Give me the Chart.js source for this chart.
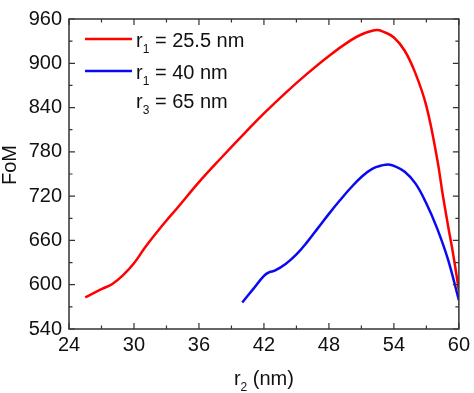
<!DOCTYPE html>
<html>
<head>
<meta charset="utf-8">
<script src="https://cdn.jsdelivr.net/npm/chart.js@4.4.1/dist/chart.umd.min.js"></script>
<style>
  html, body { margin: 0; padding: 0; background: #fff; }
  #wrap { width: 474px; height: 393px; }
</style>
</head>
<body>
<div id="wrap"><canvas id="fom" width="474" height="393"></canvas></div>
<script>
// r2 (nm) sweep, r1 = 25.5 nm
const redX = [25.5, 27, 28, 29, 30, 31, 32, 33, 34, 36, 38, 40, 42, 44, 46, 48, 50, 51, 52, 52.5, 53, 54, 55, 56, 57, 58, 58.5, 59, 59.5, 60];
const redY = [583, 594, 601, 613, 629, 650, 669, 687, 704, 739, 771, 802, 832, 860, 886, 910, 931, 939, 944, 945, 943, 935, 917, 886, 842, 770, 723, 680, 639, 592];
// r1 = 40 nm
const blueX = [40, 41, 42, 42.5, 43, 44, 45, 46, 47, 48, 49, 50, 51, 52, 53, 53.5, 54, 55, 56, 57, 58, 59, 60];
const blueY = [576, 594, 612, 617, 619, 628, 641, 658, 677, 696, 714, 731, 746, 757, 762, 763, 761, 753, 737, 710, 676, 634, 579];

const xTicks = [24, 30, 36, 42, 48, 54, 60];
const yTicks = [540, 600, 660, 720, 780, 840, 900, 960];
const legendLabels = [['r', '1', ' = 25.5 nm'], ['r', '1', ' = 40 nm'], ['r', '3', ' = 65 nm']];
const xTitle = ['r', '2', ' (nm)'];
const yTitle = 'FoM';

const FONT = '"Liberation Sans", Arial, sans-serif';
const TXT = '#111';
const FRAME = '#333';

const pts = (xs, ys) => xs.map((x, i) => ({ x: x, y: ys[i] }));

// draws "r" + subscript + rest
function subText(ctx, parts, x, y, size, align) {
    const big = size + 'px ' + FONT, small = Math.round(size * 0.6) + 'px ' + FONT;
    ctx.font = big; const w0 = ctx.measureText(parts[0]).width, w2 = ctx.measureText(parts[2]).width;
    ctx.font = small; const w1 = ctx.measureText(parts[1]).width;
    let sx = align === 'center' ? x - (w0 + w1 + w2) / 2 : x;
    ctx.textAlign = 'left'; ctx.textBaseline = 'alphabetic'; ctx.fillStyle = TXT;
    ctx.font = big; ctx.fillText(parts[0], sx, y);
    ctx.font = small; ctx.fillText(parts[1], sx + w0, y + size * 0.3);
    ctx.font = big; ctx.fillText(parts[2], sx + w0 + w1, y);
}

const framePlugin = {
    id: 'frame',
    afterDatasetsDraw(chart) {
        const ctx = chart.ctx, a = chart.chartArea;
        const xs = chart.scales.x, ys = chart.scales.y;
        ctx.save();
        ctx.strokeStyle = FRAME; ctx.lineWidth = 1.5;
        ctx.strokeRect(a.left, a.top, a.right - a.left, a.bottom - a.top);
        ctx.lineWidth = 1.2;
        ctx.beginPath();
        for (let v = xs.min; v <= xs.max; v += 3) {
            const px = xs.getPixelForValue(v);
            const len = (v - xs.min) % 6 === 0 ? 6 : 3.5;
            ctx.moveTo(px, a.bottom); ctx.lineTo(px, a.bottom - len);
            ctx.moveTo(px, a.top); ctx.lineTo(px, a.top + len);
        }
        for (let v = ys.min; v <= ys.max; v += 30) {
            const py = ys.getPixelForValue(v);
            const len = (v - ys.min) % 60 === 0 ? 6 : 3.5;
            ctx.moveTo(a.left, py); ctx.lineTo(a.left + len, py);
            ctx.moveTo(a.right, py); ctx.lineTo(a.right - len, py);
        }
        ctx.stroke();

        // legend
        const ds = chart.data.datasets;
        const lx0 = a.left + 16, lx1 = a.left + 63, tx = a.left + 67;
        const rows = [a.top + 20, a.top + 52, a.top + 81];
        legendLabels.forEach((lab, i) => {
            if (ds[i]) {
                ctx.strokeStyle = ds[i].borderColor; ctx.lineWidth = 2.5;
                ctx.beginPath(); ctx.moveTo(lx0, rows[i]); ctx.lineTo(lx1, rows[i]); ctx.stroke();
            }
            subText(ctx, lab, tx, rows[i] + 7.5, 20, 'left');
        });

        // axis titles
        subText(ctx, xTitle, (a.left + a.right) / 2, 385, 20, 'center');
        ctx.save();
        ctx.translate(10, 165); ctx.rotate(-Math.PI / 2);
        ctx.font = '20px ' + FONT; ctx.textAlign = 'center'; ctx.textBaseline = 'middle';
        ctx.fillStyle = TXT; ctx.fillText(yTitle, 0, 0);
        ctx.restore();
        ctx.restore();
    }
};

new Chart(document.getElementById('fom').getContext('2d'), {
    type: 'line',
    data: {
        datasets: [
            { label: 'r1 = 25.5 nm', data: pts(redX, redY), borderColor: '#ff0000', borderWidth: 2.5, pointRadius: 0, tension: 0.4, fill: false },
            { label: 'r1 = 40 nm', data: pts(blueX, blueY), borderColor: '#0a0af0', borderWidth: 2.5, pointRadius: 0, tension: 0.4, fill: false }
        ]
    },
    options: {
        responsive: false,
        animation: false,
        layout: { padding: { top: 9, right: 10, left: 0, bottom: 0 } },
        scales: {
            x: {
                type: 'linear', min: 24, max: 60,
                afterBuildTicks: s => { s.ticks = xTicks.map(v => ({ value: v })); },
                afterFit: s => { s.height = 64; },
                grid: { display: false, drawTicks: false },
                border: { display: false },
                ticks: { font: { size: 20, family: FONT }, color: TXT, padding: 4, maxRotation: 0 }
            },
            y: {
                min: 540, max: 960,
                afterBuildTicks: s => { s.ticks = yTicks.map(v => ({ value: v })); },
                afterFit: s => { s.width = 69; },
                grid: { display: false, drawTicks: false },
                border: { display: false },
                ticks: { font: { size: 20, family: FONT }, color: TXT, padding: 7 }
            }
        },
        plugins: { legend: { display: false }, tooltip: { enabled: false } }
    },
    plugins: [framePlugin]
});
</script>
</body>
</html>
